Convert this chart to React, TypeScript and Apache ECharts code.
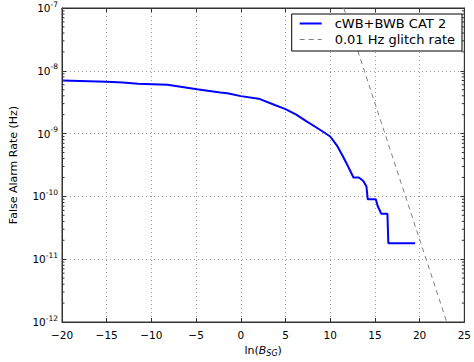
import React, { useEffect, useRef } from "react";
import * as echarts from "echarts";

const cwbX = [-20, -15, -13.2, -11.5, -8.2, -4.9, -2.3, -1.5, 0, 2.0, 3.8, 5.0, 6.2, 7.4, 8.9, 10.0, 10.8, 11.4, 11.9, 12.3, 12.6, 13.2, 13.7, 14.05, 14.2, 15.1, 15.3, 15.7, 16.4, 16.5, 19.5];
const cwbY = [7.0e-9, 6.7e-9, 6.5e-9, 6.2e-9, 6.0e-9, 5.1e-9, 4.5e-9, 4.4e-9, 3.95e-9, 3.6e-9, 2.85e-9, 2.45e-9, 2.0e-9, 1.55e-9, 1.14e-9, 9.0e-10, 6.3e-10, 4.4e-10, 3.2e-10, 2.45e-10, 2.0e-10, 2.0e-10, 1.76e-10, 1.44e-10, 9.0e-11, 9.0e-11, 7.1e-11, 5.3e-11, 5.3e-11, 1.8e-11, 1.8e-11];

const glitchX = [11.51, 23.03];
const glitchY = [1e-7, 1e-12];

const seriesNames = ["cWB+BWB CAT 2", "0.01 Hz glitch rate"];
const decades = [-12, -11, -10, -9, -8];
const minorMultipliers = [2, 3, 4, 5, 6, 7, 8, 9];

const X_MIN = -20;
const X_MAX = 25;
const FONT = "DejaVu Sans";

const SOLID_ICON = "path://M0,0 H22 V2 H0 Z";
const DASHED_ICON = "path://M0,0 H5 V1 H0 Z M9,0 H14 V1 H9 Z M18,0 H22 V1 H18 Z";

export default function App() {
  const ref = useRef<HTMLDivElement>(null);

  useEffect(() => {
    const chart = echarts.init(ref.current!, null, { renderer: "svg" });
    const minorTicks: number[][] = [];
    decades.forEach((e) =>
      minorMultipliers.forEach((k) => minorTicks.push([X_MIN, k * Math.pow(10, e)]))
    );

    const axisColor = "#333";
    const option: any = {
      animation: false,
      grid: {
        left: 48,
        right: 7,
        top: 7,
        bottom: 30,
        show: true,
        borderColor: axisColor,
        borderWidth: 1,
        backgroundColor: "transparent",
      },
      legend: {
        data: [
          { name: seriesNames[0], icon: SOLID_ICON },
          { name: seriesNames[1], icon: DASHED_ICON },
        ],
        orient: "vertical",
        right: 12,
        top: 14,
        backgroundColor: "#fff",
        borderColor: "#000",
        borderWidth: 1,
        borderRadius: 0,
        padding: [3, 7, 5, 8],
        itemGap: 3,
        itemWidth: 22,
        itemHeight: 15,
        textStyle: { fontSize: 13, fontFamily: FONT, color: "#000", padding: [0, 0, 0, 8] },
        z: 20,
      },
      xAxis: [
        {
          type: "value",
          min: X_MIN,
          max: X_MAX,
          interval: 5,
          position: "bottom",
          axisLine: { show: true, onZero: false, lineStyle: { color: axisColor } },
          axisTick: { show: true, inside: true, length: 4, lineStyle: { color: axisColor } },
          axisLabel: {
            color: "#000",
            fontSize: 10.5,
            fontFamily: FONT,
            margin: 7,
            formatter: (v: number) => (v < 0 ? "\u2212" + Math.abs(v) : String(v)),
          },
          splitLine: { show: true, lineStyle: { type: [1, 3], color: "#999", width: 1 } },
          name: "ln({i|B}{sub|SG})",
          nameLocation: "middle",
          nameGap: 22,
          nameTextStyle: {
            color: "#000",
            fontSize: 11,
            fontFamily: FONT,
            rich: {
              i: { fontStyle: "italic", fontSize: 11, fontFamily: FONT, color: "#000" },
              sub: { fontStyle: "italic", fontSize: 8, fontFamily: FONT, color: "#000", padding: [5, 0, 0, 0] },
            },
          },
        },
        {
          type: "value",
          min: X_MIN,
          max: X_MAX,
          interval: 5,
          position: "top",
          axisLine: { show: true, onZero: false, lineStyle: { color: axisColor } },
          axisTick: { show: true, inside: true, length: 4, lineStyle: { color: axisColor } },
          axisLabel: { show: false },
          splitLine: { show: false },
        },
      ],
      yAxis: [
        {
          type: "log",
          logBase: 10,
          min: 1e-12,
          max: 1e-7,
          interval: 1,
          position: "left",
          axisLine: { show: true, onZero: false, lineStyle: { color: axisColor } },
          axisTick: { show: true, inside: true, length: 4, lineStyle: { color: axisColor } },
          axisLabel: {
            color: "#000",
            fontSize: 10.5,
            fontFamily: FONT,
            margin: 4,
            formatter: (v: number) => "10{sup|" + Math.round(Math.log10(v)) + "}",
            rich: {
              sup: { fontSize: 7.5, fontFamily: FONT, color: "#000", padding: [0, 0, 8, 0] },
            },
          },
          splitLine: { show: true, lineStyle: { type: [1, 3], color: "#999", width: 1 } },
          name: "False Alarm Rate (Hz)",
          nameLocation: "middle",
          nameGap: 43,
          nameTextStyle: { color: "#000", fontSize: 11, fontFamily: FONT },
        },
        {
          type: "log",
          logBase: 10,
          min: 1e-12,
          max: 1e-7,
          interval: 1,
          position: "right",
          axisLine: { show: true, onZero: false, lineStyle: { color: axisColor } },
          axisTick: { show: true, inside: true, length: 4, lineStyle: { color: axisColor } },
          axisLabel: { show: false },
          splitLine: { show: false },
        },
      ],
      series: [
        {
          name: seriesNames[0],
          type: "line",
          xAxisIndex: 0,
          yAxisIndex: 0,
          data: cwbX.map((x, i) => [x, cwbY[i]]),
          symbol: "none",
          showSymbol: false,
          color: "#0000ff",
          lineStyle: { color: "#0000ff", width: 2 },
          z: 5,
        },
        {
          name: seriesNames[1],
          type: "line",
          xAxisIndex: 0,
          yAxisIndex: 0,
          data: glitchX.map((x, i) => [x, glitchY[i]]),
          symbol: "none",
          showSymbol: false,
          color: "#808080",
          lineStyle: { color: "#808080", width: 1, type: [5, 4] },
          z: 4,
        },
        {
          name: "minor ticks",
          type: "custom",
          xAxisIndex: 0,
          yAxisIndex: 0,
          silent: true,
          clip: false,
          data: minorTicks,
          renderItem: (_params: any, api: any) => {
            const v = api.value(1);
            const l = api.coord([X_MIN, v]);
            const r = api.coord([X_MAX, v]);
            return {
              type: "group",
              children: [
                { type: "line", shape: { x1: l[0], y1: l[1], x2: l[0] + 2.5, y2: l[1] }, style: { stroke: axisColor, lineWidth: 1 } },
                { type: "line", shape: { x1: r[0] - 2.5, y1: r[1], x2: r[0], y2: r[1] }, style: { stroke: axisColor, lineWidth: 1 } },
              ],
            };
          },
          z: 6,
        },
      ],
    };
    chart.setOption(option);
    return () => chart.dispose();
  }, []);

  return (
    <div
      ref={ref}
      style={{ position: "fixed", left: 0, top: 0, width: 474, height: 362, background: "#fff" }}
    />
  );
}
